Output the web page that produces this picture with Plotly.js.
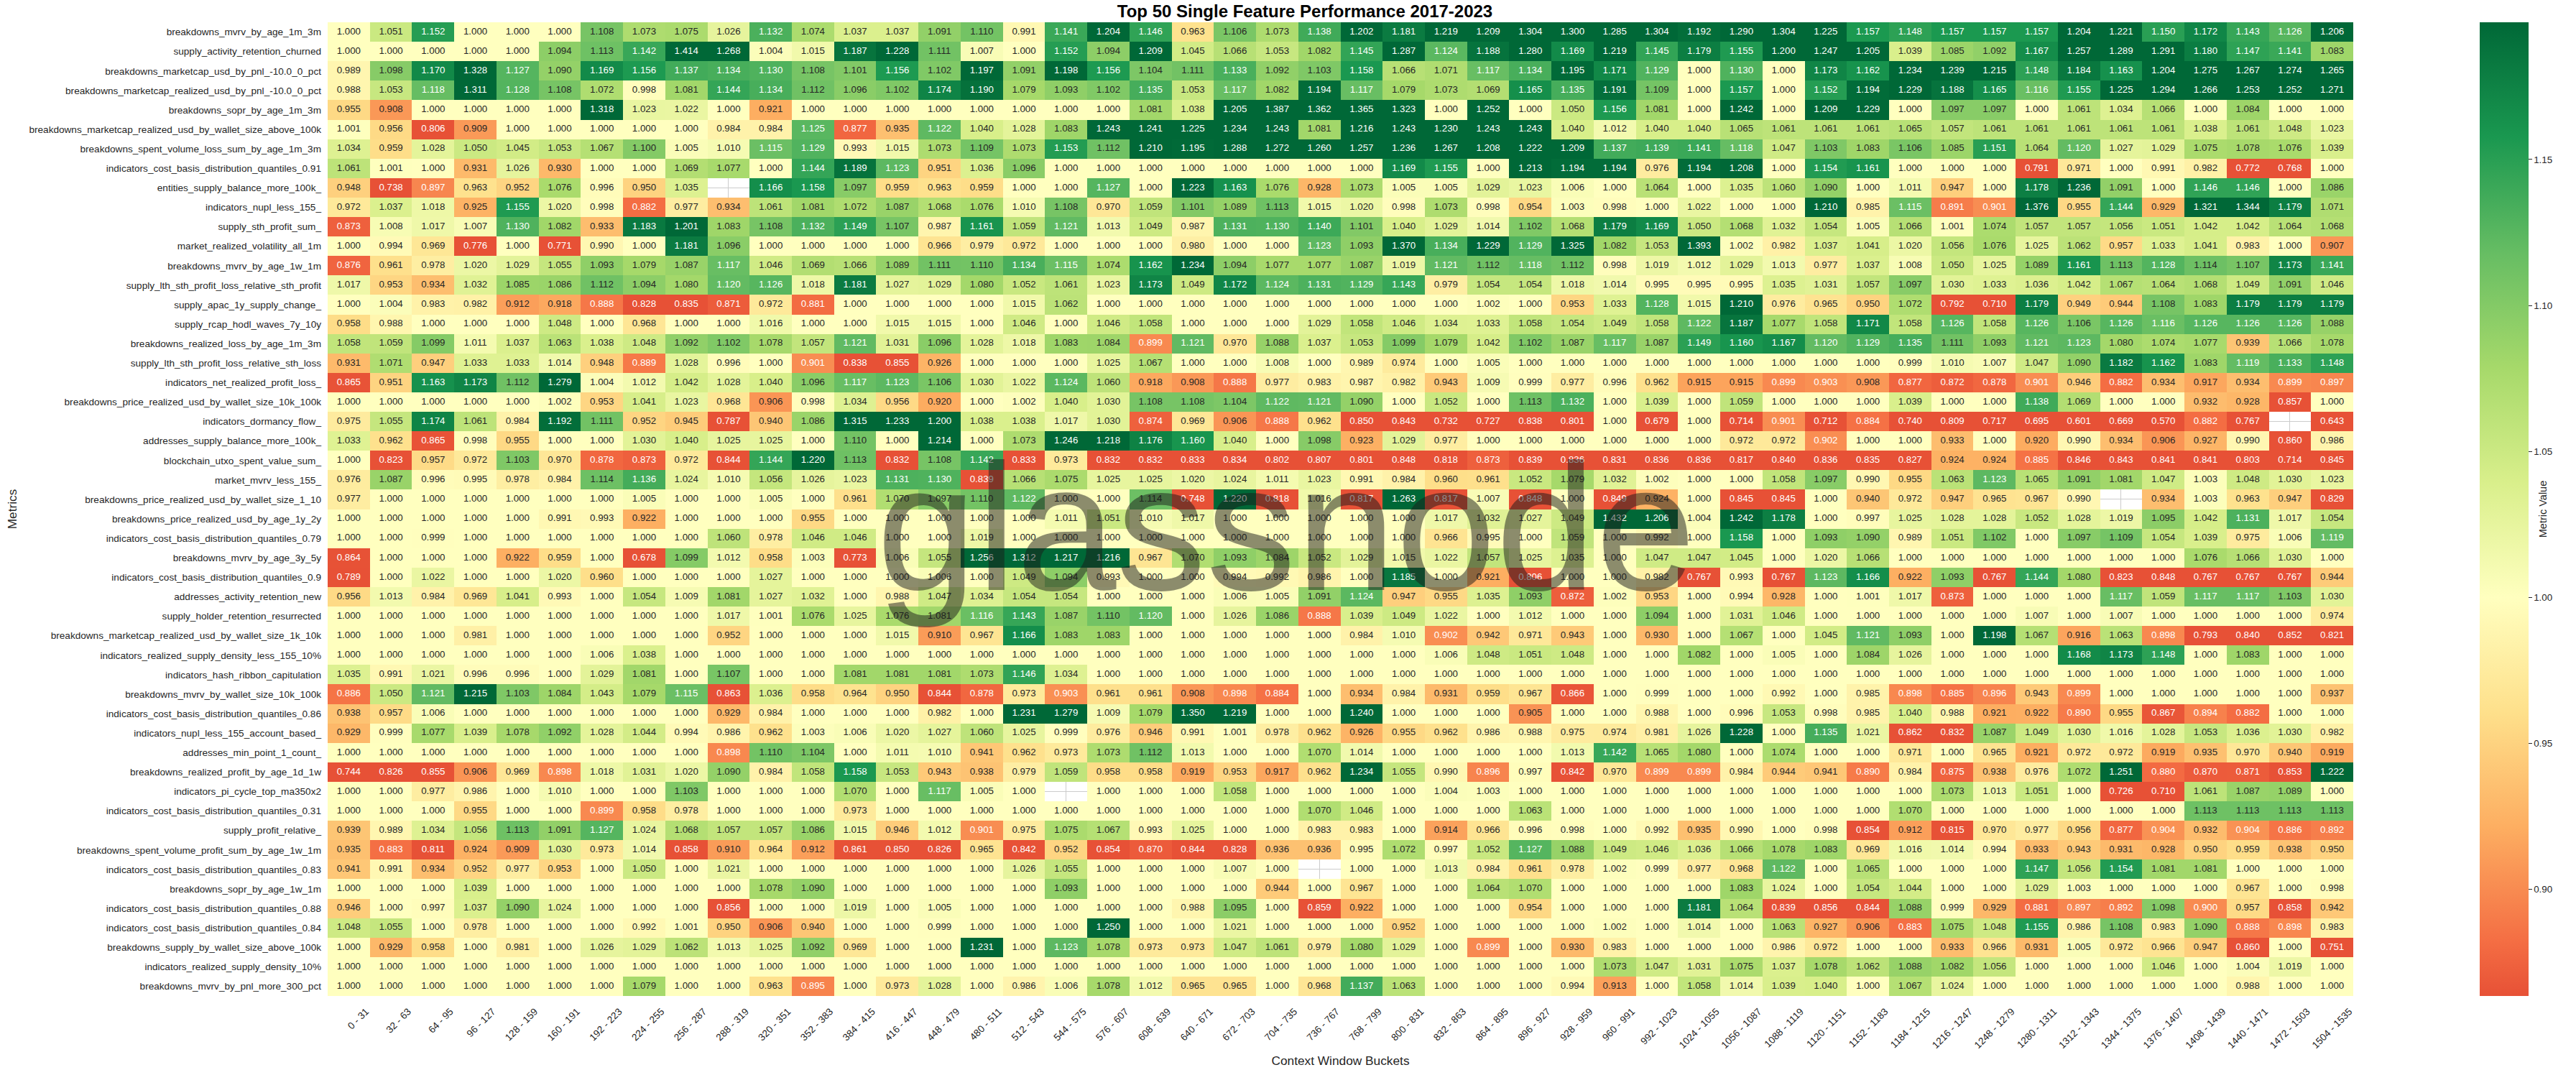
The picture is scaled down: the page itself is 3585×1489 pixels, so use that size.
<!DOCTYPE html>
<html>
<head>
<meta charset="utf-8">
<script src="https://cdn.plot.ly/plotly-3.0.1.min.js"></script>
<style>html,body{margin:0;padding:0;background:#fff}#chart{width:3585px;height:1489px}</style>
</head>
<body>
<div id="chart"></div>
<script>
const metrics = ["breakdowns_mvrv_by_age_1m_3m","supply_activity_retention_churned","breakdowns_marketcap_usd_by_pnl_-10.0_0_pct","breakdowns_marketcap_realized_usd_by_pnl_-10.0_0_pct","breakdowns_sopr_by_age_1m_3m","breakdowns_marketcap_realized_usd_by_wallet_size_above_100k","breakdowns_spent_volume_loss_sum_by_age_1m_3m","indicators_cost_basis_distribution_quantiles_0.91","entities_supply_balance_more_100k_","indicators_nupl_less_155_","supply_sth_profit_sum_","market_realized_volatility_all_1m","breakdowns_mvrv_by_age_1w_1m","supply_lth_sth_profit_loss_relative_sth_profit","supply_apac_1y_supply_change_","supply_rcap_hodl_waves_7y_10y","breakdowns_realized_loss_by_age_1m_3m","supply_lth_sth_profit_loss_relative_sth_loss","indicators_net_realized_profit_loss_","breakdowns_price_realized_usd_by_wallet_size_10k_100k","indicators_dormancy_flow_","addresses_supply_balance_more_100k_","blockchain_utxo_spent_value_sum_","market_mvrv_less_155_","breakdowns_price_realized_usd_by_wallet_size_1_10","breakdowns_price_realized_usd_by_age_1y_2y","indicators_cost_basis_distribution_quantiles_0.79","breakdowns_mvrv_by_age_3y_5y","indicators_cost_basis_distribution_quantiles_0.9","addresses_activity_retention_new","supply_holder_retention_resurrected","breakdowns_marketcap_realized_usd_by_wallet_size_1k_10k","indicators_realized_supply_density_less_155_10%","indicators_hash_ribbon_capitulation","breakdowns_mvrv_by_wallet_size_10k_100k","indicators_cost_basis_distribution_quantiles_0.86","indicators_nupl_less_155_account_based_","addresses_min_point_1_count_","breakdowns_realized_profit_by_age_1d_1w","indicators_pi_cycle_top_ma350x2","indicators_cost_basis_distribution_quantiles_0.31","supply_profit_relative_","breakdowns_spent_volume_profit_sum_by_age_1w_1m","indicators_cost_basis_distribution_quantiles_0.83","breakdowns_sopr_by_age_1w_1m","indicators_cost_basis_distribution_quantiles_0.88","indicators_cost_basis_distribution_quantiles_0.84","breakdowns_supply_by_wallet_size_above_100k","indicators_realized_supply_density_10%","breakdowns_mvrv_by_pnl_more_300_pct"];
const buckets = ["0 - 31","32 - 63","64 - 95","96 - 127","128 - 159","160 - 191","192 - 223","224 - 255","256 - 287","288 - 319","320 - 351","352 - 383","384 - 415","416 - 447","448 - 479","480 - 511","512 - 543","544 - 575","576 - 607","608 - 639","640 - 671","672 - 703","704 - 735","736 - 767","768 - 799","800 - 831","832 - 863","864 - 895","896 - 927","928 - 959","960 - 991","992 - 1023","1024 - 1055","1056 - 1087","1088 - 1119","1120 - 1151","1152 - 1183","1184 - 1215","1216 - 1247","1248 - 1279","1280 - 1311","1312 - 1343","1344 - 1375","1376 - 1407","1408 - 1439","1440 - 1471","1472 - 1503","1504 - 1535"];

const row00=[1.000,1.051,1.152,1.000,1.000,1.000,1.108,1.073,1.075,1.026,1.132,1.074,1.037,1.037,1.091,1.110,0.991,1.141,1.204,1.146,0.963,1.106,1.073,1.138,1.202,1.181,1.219,1.209,1.304,1.300,1.285,1.304,1.192,1.290,1.304,1.225,1.157,1.148,1.157,1.157,1.157,1.204,1.221,1.150,1.172,1.143,1.126,1.206];
const row01=[1.000,1.000,1.000,1.000,1.000,1.094,1.113,1.142,1.414,1.268,1.004,1.015,1.187,1.228,1.111,1.007,1.000,1.152,1.094,1.209,1.045,1.066,1.053,1.082,1.145,1.287,1.124,1.188,1.280,1.169,1.219,1.145,1.179,1.155,1.200,1.247,1.205,1.039,1.085,1.092,1.167,1.257,1.289,1.291,1.180,1.147,1.141,1.083];
const row02=[0.989,1.098,1.170,1.328,1.127,1.090,1.169,1.156,1.137,1.134,1.130,1.108,1.101,1.156,1.102,1.197,1.091,1.198,1.156,1.104,1.111,1.133,1.092,1.103,1.158,1.066,1.071,1.117,1.134,1.195,1.171,1.129,1.000,1.130,1.000,1.173,1.162,1.234,1.239,1.215,1.148,1.184,1.163,1.204,1.275,1.267,1.274,1.265];
const row03=[0.988,1.053,1.118,1.311,1.128,1.108,1.072,0.998,1.081,1.144,1.134,1.112,1.096,1.102,1.174,1.190,1.079,1.093,1.102,1.135,1.053,1.117,1.082,1.194,1.117,1.079,1.073,1.069,1.165,1.135,1.191,1.109,1.000,1.157,1.000,1.152,1.194,1.229,1.188,1.165,1.116,1.155,1.225,1.294,1.266,1.253,1.252,1.271];
const row04=[0.955,0.908,1.000,1.000,1.000,1.000,1.318,1.023,1.022,1.000,0.921,1.000,1.000,1.000,1.000,1.000,1.000,1.000,1.000,1.081,1.038,1.205,1.387,1.362,1.365,1.323,1.000,1.252,1.000,1.050,1.156,1.081,1.000,1.242,1.000,1.209,1.229,1.000,1.097,1.097,1.000,1.061,1.034,1.066,1.000,1.084,1.000,1.000];
const row05=[1.001,0.956,0.806,0.909,1.000,1.000,1.000,1.000,1.000,0.984,0.984,1.125,0.877,0.935,1.122,1.040,1.028,1.083,1.243,1.241,1.225,1.234,1.243,1.081,1.216,1.243,1.230,1.243,1.243,1.040,1.012,1.040,1.040,1.065,1.061,1.061,1.061,1.065,1.057,1.061,1.061,1.061,1.061,1.061,1.038,1.061,1.048,1.023];
const row06=[1.034,0.959,1.028,1.050,1.045,1.053,1.067,1.100,1.005,1.010,1.115,1.129,0.993,1.015,1.073,1.109,1.073,1.153,1.112,1.210,1.195,1.288,1.272,1.260,1.257,1.236,1.267,1.208,1.222,1.209,1.137,1.139,1.141,1.118,1.047,1.103,1.083,1.106,1.085,1.151,1.064,1.120,1.027,1.029,1.075,1.078,1.076,1.039];
const row07=[1.061,1.001,1.000,0.931,1.026,0.930,1.000,1.000,1.069,1.077,1.000,1.144,1.189,1.123,0.951,1.036,1.096,1.000,1.000,1.000,1.000,1.000,1.000,1.000,1.000,1.169,1.155,1.000,1.213,1.194,1.194,0.976,1.194,1.208,1.000,1.154,1.161,1.000,1.000,1.000,0.791,0.971,1.000,0.991,0.982,0.772,0.768,1.000];
const row08=[0.948,0.738,0.897,0.963,0.952,1.076,0.996,0.950,1.035,null,1.166,1.158,1.097,0.959,0.963,0.959,1.000,1.000,1.127,1.000,1.223,1.163,1.076,0.928,1.073,1.005,1.005,1.029,1.023,1.006,1.000,1.064,1.000,1.035,1.060,1.090,1.000,1.011,0.947,1.000,1.178,1.236,1.091,1.000,1.146,1.146,1.000,1.086];
const row09=[0.972,1.037,1.018,0.925,1.155,1.020,0.998,0.882,0.977,0.934,1.061,1.081,1.072,1.087,1.068,1.076,1.010,1.108,0.970,1.059,1.101,1.089,1.113,1.015,1.020,0.998,1.073,0.998,0.954,1.003,0.998,1.000,1.022,1.000,1.000,1.210,0.985,1.115,0.891,0.901,1.376,0.955,1.144,0.929,1.321,1.344,1.179,1.071];
const row10=[0.873,1.008,1.017,1.007,1.130,1.082,0.933,1.183,1.201,1.083,1.108,1.132,1.149,1.107,0.987,1.161,1.059,1.121,1.013,1.049,0.987,1.131,1.130,1.140,1.101,1.040,1.029,1.014,1.102,1.068,1.179,1.169,1.050,1.068,1.032,1.054,1.005,1.066,1.001,1.074,1.057,1.057,1.056,1.051,1.042,1.042,1.064,1.068];
const row11=[1.000,0.994,0.969,0.776,1.000,0.771,0.990,1.000,1.181,1.096,1.000,1.000,1.000,1.000,0.966,0.979,0.972,1.000,1.000,1.000,0.980,1.000,1.000,1.123,1.093,1.370,1.134,1.229,1.129,1.325,1.082,1.053,1.393,1.002,0.982,1.037,1.041,1.020,1.056,1.076,1.025,1.062,0.957,1.033,1.041,0.983,1.000,0.907];
const row12=[0.876,0.961,0.978,1.020,1.029,1.055,1.093,1.079,1.087,1.117,1.046,1.069,1.066,1.089,1.111,1.110,1.134,1.115,1.074,1.162,1.234,1.094,1.077,1.077,1.087,1.019,1.121,1.112,1.118,1.112,0.998,1.019,1.012,1.029,1.013,0.977,1.037,1.008,1.050,1.025,1.089,1.161,1.113,1.128,1.114,1.107,1.173,1.141];
const row13=[1.017,0.953,0.934,1.032,1.085,1.086,1.112,1.094,1.080,1.120,1.126,1.018,1.181,1.027,1.029,1.080,1.052,1.061,1.023,1.173,1.049,1.172,1.124,1.131,1.129,1.143,0.979,1.054,1.054,1.018,1.014,0.995,0.995,0.995,1.035,1.031,1.057,1.097,1.030,1.033,1.036,1.042,1.067,1.064,1.068,1.049,1.091,1.046];
const row14=[1.000,1.004,0.983,0.982,0.912,0.918,0.888,0.828,0.835,0.871,0.972,0.881,1.000,1.000,1.000,1.000,1.015,1.062,1.000,1.000,1.000,1.000,1.000,1.000,1.000,1.000,1.000,1.002,1.000,0.953,1.033,1.128,1.015,1.210,0.976,0.965,0.950,1.072,0.792,0.710,1.179,0.949,0.944,1.108,1.083,1.179,1.179,1.179];
const row15=[0.958,0.988,1.000,1.000,1.000,1.048,1.000,0.968,1.000,1.000,1.016,1.000,1.000,1.015,1.015,1.000,1.046,1.000,1.046,1.058,1.000,1.000,1.000,1.029,1.058,1.046,1.034,1.033,1.058,1.054,1.049,1.058,1.122,1.187,1.077,1.058,1.171,1.058,1.126,1.058,1.126,1.106,1.126,1.116,1.126,1.126,1.126,1.088];
const row16=[1.058,1.059,1.099,1.011,1.037,1.063,1.038,1.048,1.092,1.102,1.078,1.057,1.121,1.031,1.096,1.028,1.018,1.083,1.084,0.899,1.121,0.970,1.088,1.037,1.053,1.099,1.079,1.042,1.102,1.087,1.117,1.087,1.149,1.160,1.167,1.120,1.129,1.135,1.111,1.093,1.121,1.123,1.080,1.074,1.077,0.939,1.066,1.078];
const row17=[0.931,1.071,0.947,1.033,1.033,1.014,0.948,0.889,1.028,0.996,1.000,0.901,0.838,0.855,0.926,1.000,1.000,1.000,1.025,1.067,1.000,1.000,1.008,1.000,0.989,0.974,1.000,1.005,1.000,1.000,1.000,1.000,1.000,1.000,1.000,1.000,1.000,0.999,1.010,1.007,1.047,1.090,1.182,1.162,1.083,1.119,1.133,1.148];
const row18=[0.865,0.951,1.163,1.173,1.112,1.279,1.004,1.012,1.042,1.028,1.040,1.096,1.117,1.123,1.106,1.030,1.022,1.124,1.060,0.918,0.908,0.888,0.977,0.983,0.987,0.982,0.943,1.009,0.999,0.977,0.996,0.962,0.915,0.915,0.899,0.903,0.908,0.877,0.872,0.878,0.901,0.946,0.882,0.934,0.917,0.934,0.899,0.897];
const row19=[1.000,1.000,1.000,1.000,1.000,1.002,0.953,1.041,1.023,0.968,0.906,0.998,1.034,0.956,0.920,1.000,1.002,1.040,1.030,1.108,1.108,1.104,1.122,1.121,1.090,1.000,1.052,1.000,1.113,1.132,1.000,1.039,1.000,1.059,1.000,1.000,1.000,1.039,1.000,1.000,1.138,1.069,1.000,1.000,0.932,0.928,0.857,1.000];
const row20=[0.975,1.055,1.174,1.061,0.984,1.192,1.111,0.952,0.945,0.787,0.940,1.086,1.315,1.233,1.200,1.038,1.038,1.017,1.030,0.874,0.969,0.906,0.888,0.962,0.850,0.843,0.732,0.727,0.838,0.801,1.000,0.679,1.000,0.714,0.901,0.712,0.884,0.740,0.809,0.717,0.695,0.601,0.669,0.570,0.882,0.767,null,0.643];
const row21=[1.033,0.962,0.865,0.998,0.955,1.000,1.000,1.030,1.040,1.025,1.025,1.000,1.110,1.000,1.214,1.000,1.073,1.246,1.218,1.176,1.160,1.040,1.000,1.098,0.923,1.029,0.977,1.000,1.000,1.000,1.000,1.000,1.000,0.972,0.972,0.902,1.000,1.000,0.933,1.000,0.920,0.990,0.934,0.906,0.927,0.990,0.860,0.986];
const row22=[1.000,0.823,0.957,0.972,1.103,0.970,0.878,0.873,0.972,0.844,1.144,1.220,1.113,0.832,1.108,1.142,0.833,0.973,0.832,0.832,0.833,0.834,0.802,0.807,0.801,0.848,0.818,0.873,0.839,0.836,0.831,0.836,0.836,0.817,0.840,0.836,0.835,0.827,0.924,0.924,0.885,0.846,0.843,0.841,0.841,0.803,0.714,0.845];
const row23=[0.976,1.087,0.996,0.995,0.978,0.984,1.114,1.136,1.024,1.010,1.056,1.026,1.023,1.131,1.130,0.839,1.066,1.075,1.025,1.025,1.020,1.024,1.011,1.023,0.991,0.984,0.960,0.961,1.052,1.079,1.032,1.002,1.000,1.000,1.058,1.097,0.990,0.955,1.063,1.123,1.065,1.091,1.081,1.047,1.003,1.048,1.030,1.023];
const row24=[0.977,1.000,1.000,1.000,1.000,1.000,1.000,1.005,1.000,1.000,1.005,1.000,0.961,1.070,1.097,1.110,1.122,1.000,1.000,1.114,0.748,1.220,0.818,1.016,0.817,1.263,0.817,1.007,0.848,1.000,0.849,0.924,1.000,0.845,0.845,1.000,0.940,0.972,0.947,0.965,0.967,0.990,null,0.934,1.003,0.963,0.947,0.829];
const row25=[1.000,1.000,1.000,1.000,1.000,0.991,0.993,0.922,1.000,1.000,1.000,0.955,1.000,1.000,1.000,1.000,1.000,1.011,1.051,1.010,1.017,1.000,1.000,1.000,1.000,1.000,1.017,1.032,1.027,1.049,1.432,1.206,1.004,1.242,1.178,1.000,0.997,1.025,1.028,1.028,1.052,1.028,1.019,1.095,1.042,1.131,1.017,1.054];
const row26=[1.000,1.000,0.999,1.000,1.000,1.000,1.000,1.000,1.000,1.060,0.978,1.046,1.046,1.000,1.000,1.019,1.000,1.000,1.000,1.000,1.000,1.000,1.000,1.000,1.000,1.000,0.966,0.995,1.000,1.059,1.000,0.992,1.000,1.158,1.000,1.093,1.090,0.989,1.051,1.102,1.000,1.097,1.109,1.054,1.039,0.975,1.006,1.119];
const row27=[0.864,1.000,1.000,1.000,0.922,0.959,1.000,0.678,1.099,1.012,0.958,1.003,0.773,1.006,1.055,1.256,1.312,1.217,1.216,0.967,1.070,1.093,1.084,1.052,1.029,1.015,1.022,1.057,1.025,1.035,1.000,1.047,1.047,1.045,1.000,1.020,1.066,1.000,1.000,1.000,1.000,1.000,1.000,1.000,1.076,1.066,1.030,1.000];
const row28=[0.789,1.000,1.022,1.000,1.000,1.020,0.960,1.000,1.000,1.000,1.027,1.000,1.000,1.000,1.006,1.000,1.049,1.094,0.993,1.000,1.000,0.994,0.992,0.986,1.000,1.185,1.000,0.921,0.806,1.000,1.000,0.982,0.767,0.993,0.767,1.123,1.166,0.922,1.093,0.767,1.144,1.080,0.823,0.848,0.767,0.767,0.767,0.944];
const row29=[0.956,1.013,0.984,0.969,1.041,0.993,1.000,1.054,1.009,1.081,1.027,1.032,1.000,0.988,1.047,1.034,1.054,1.054,1.000,1.000,1.000,1.006,1.005,1.091,1.124,0.947,0.955,1.035,1.093,0.872,1.002,0.953,1.000,0.994,0.928,1.000,1.001,1.017,0.873,1.000,1.000,1.000,1.117,1.059,1.117,1.117,1.103,1.030];
const row30=[1.000,1.000,1.000,1.000,1.000,1.000,1.000,1.000,1.000,1.017,1.001,1.076,1.025,1.076,1.081,1.116,1.143,1.087,1.110,1.120,1.000,1.026,1.086,0.888,1.039,1.049,1.022,1.000,1.012,1.000,1.000,1.094,1.000,1.031,1.046,1.000,1.000,1.000,1.000,1.000,1.007,1.000,1.007,1.000,1.000,1.000,1.000,0.974];
const row31=[1.000,1.000,1.000,0.981,1.000,1.000,1.000,1.000,1.000,0.952,1.000,1.000,1.000,1.015,0.910,0.967,1.166,1.083,1.083,1.000,1.000,1.000,1.000,1.000,0.984,1.010,0.902,0.942,0.971,0.943,1.000,0.930,1.000,1.067,1.000,1.045,1.121,1.093,1.000,1.198,1.067,0.916,1.063,0.898,0.793,0.840,0.852,0.821];
const row32=[1.000,1.000,1.000,1.000,1.000,1.000,1.006,1.038,1.000,1.000,1.000,1.000,1.000,1.000,1.000,1.000,1.000,1.000,1.000,1.000,1.000,1.000,1.000,1.000,1.000,1.000,1.006,1.048,1.051,1.048,1.000,1.000,1.082,1.000,1.005,1.000,1.084,1.026,1.000,1.000,1.000,1.168,1.173,1.148,1.000,1.083,1.000,1.000];
const row33=[1.035,0.991,1.021,0.996,0.996,1.000,1.029,1.081,1.000,1.107,1.000,1.000,1.081,1.081,1.081,1.073,1.146,1.034,1.000,1.000,1.000,1.000,1.000,1.000,1.000,1.000,1.000,1.000,1.000,1.000,1.000,1.000,1.000,1.000,1.000,1.000,1.000,1.000,1.000,1.000,1.000,1.000,1.000,1.000,1.000,1.000,1.000,1.000];
const row34=[0.886,1.050,1.121,1.215,1.103,1.084,1.043,1.079,1.115,0.863,1.036,0.958,0.964,0.950,0.844,0.878,0.973,0.903,0.961,0.961,0.908,0.898,0.884,1.000,0.934,0.984,0.931,0.959,0.967,0.866,1.000,0.999,1.000,1.000,0.992,1.000,0.985,0.898,0.885,0.896,0.943,0.899,1.000,1.000,1.000,1.000,1.000,0.937];
const row35=[0.938,0.957,1.006,1.000,1.000,1.000,1.000,1.000,1.000,0.929,0.984,1.000,1.000,1.000,0.982,1.000,1.231,1.279,1.009,1.079,1.350,1.219,1.000,1.000,1.240,1.000,1.000,1.000,0.905,1.000,1.000,0.988,1.000,0.996,1.053,0.998,0.985,1.040,0.988,0.921,0.922,0.890,0.955,0.867,0.894,0.882,1.000,1.000];
const row36=[0.929,0.999,1.077,1.039,1.078,1.092,1.028,1.044,0.994,0.986,0.962,1.003,1.006,1.020,1.027,1.060,1.025,0.999,0.976,0.946,0.991,1.001,0.978,0.962,0.926,0.955,0.962,0.986,0.988,0.975,0.974,0.981,1.026,1.228,1.000,1.135,1.021,0.862,0.832,1.087,1.049,1.030,1.016,1.028,1.053,1.036,1.030,0.982];
const row37=[1.000,1.000,1.000,1.000,1.000,1.000,1.000,1.000,1.000,0.898,1.110,1.104,1.000,1.011,1.010,0.941,0.962,0.973,1.073,1.112,1.013,1.000,1.000,1.070,1.014,1.000,1.000,1.000,1.000,1.013,1.142,1.065,1.080,1.000,1.074,1.000,1.000,0.971,1.000,0.965,0.921,0.972,0.972,0.919,0.935,0.970,0.940,0.919];
const row38=[0.744,0.826,0.855,0.906,0.969,0.898,1.018,1.031,1.020,1.090,0.984,1.058,1.158,1.053,0.943,0.938,0.979,1.059,0.958,0.958,0.919,0.953,0.917,0.962,1.234,1.055,0.990,0.896,0.997,0.842,0.970,0.899,0.899,0.984,0.944,0.941,0.890,0.984,0.875,0.938,0.976,1.072,1.251,0.880,0.870,0.871,0.853,1.222];
const row39=[1.000,1.000,0.977,0.986,1.000,1.010,1.000,1.000,1.103,1.000,1.000,1.000,1.070,1.000,1.117,1.005,1.000,null,1.000,1.000,1.000,1.058,1.000,1.000,1.000,1.000,1.004,1.003,1.000,1.000,1.000,1.000,1.000,1.000,1.000,1.000,1.000,1.000,1.073,1.013,1.051,1.000,0.726,0.710,1.061,1.087,1.089,1.000];
const row40=[1.000,1.000,1.000,0.955,1.000,1.000,0.899,0.958,0.978,1.000,1.000,1.000,0.973,1.000,1.000,1.000,1.000,1.000,1.000,1.000,1.000,1.000,1.000,1.070,1.046,1.000,1.000,1.000,1.063,1.000,1.000,1.000,1.000,1.000,1.000,1.000,1.000,1.070,1.000,1.000,1.000,1.000,1.000,1.000,1.113,1.113,1.113,1.113];
const row41=[0.939,0.989,1.034,1.056,1.113,1.091,1.127,1.024,1.068,1.057,1.057,1.086,1.015,0.946,1.012,0.901,0.975,1.075,1.067,0.993,1.025,1.000,1.000,0.983,0.983,1.000,0.914,0.966,0.996,0.998,1.000,0.992,0.935,0.990,1.000,0.998,0.854,0.912,0.815,0.970,0.977,0.956,0.877,0.904,0.932,0.904,0.886,0.892];
const row42=[0.935,0.883,0.811,0.924,0.909,1.030,0.973,1.014,0.858,0.910,0.964,0.912,0.861,0.850,0.826,0.965,0.842,0.952,0.854,0.870,0.844,0.828,0.936,0.936,0.995,1.072,0.997,1.052,1.127,1.088,1.049,1.046,1.036,1.066,1.078,1.083,0.969,1.016,1.014,0.994,0.933,0.943,0.931,0.928,0.950,0.959,0.938,0.950];
const row43=[0.941,0.991,0.934,0.952,0.977,0.953,1.000,1.050,1.000,1.021,1.000,1.000,1.000,1.000,1.000,1.000,1.026,1.055,1.000,1.000,1.000,1.007,1.000,null,1.000,1.000,1.013,0.984,0.961,0.978,1.002,0.999,0.977,0.968,1.122,1.000,1.065,1.000,1.000,1.000,1.147,1.056,1.154,1.081,1.081,1.000,1.000,1.000];
const row44=[1.000,1.000,1.000,1.039,1.000,1.000,1.000,1.000,1.000,1.000,1.078,1.090,1.000,1.000,1.000,1.000,1.000,1.093,1.000,1.000,1.000,1.000,0.944,1.000,0.967,1.000,1.000,1.064,1.070,1.000,1.000,1.000,1.000,1.083,1.024,1.000,1.054,1.044,1.000,1.000,1.029,1.003,1.000,1.000,1.000,0.967,1.000,0.998];
const row45=[0.946,1.000,0.997,1.037,1.090,1.024,1.000,1.000,1.000,0.856,1.000,1.000,1.019,1.000,1.005,1.000,1.000,1.000,1.000,1.000,0.988,1.095,1.000,0.859,0.922,1.000,1.000,1.000,0.954,1.000,1.000,1.000,1.181,1.064,0.839,0.856,0.844,1.088,0.999,0.929,0.881,0.897,0.892,1.098,0.900,0.957,0.858,0.942];
const row46=[1.048,1.055,1.000,0.978,1.000,1.000,1.000,0.992,1.001,0.950,0.906,0.940,1.000,1.000,0.999,1.000,1.000,1.000,1.250,1.000,1.000,1.021,1.000,1.000,1.000,0.952,1.000,1.000,1.000,1.000,1.002,1.000,1.014,1.000,1.063,0.927,0.906,0.883,1.075,1.048,1.155,0.986,1.108,0.983,1.090,0.888,0.898,0.983];
const row47=[1.000,0.929,0.958,1.000,0.981,1.000,1.026,1.029,1.062,1.013,1.025,1.092,0.969,1.000,1.000,1.231,1.000,1.123,1.078,0.973,0.973,1.047,1.061,0.979,1.080,1.029,1.000,0.899,1.000,0.930,0.983,1.000,1.000,1.000,0.986,0.972,1.000,1.000,0.933,0.966,0.931,1.005,0.972,0.966,0.947,0.860,1.000,0.751];
const row48=[1.000,1.000,1.000,1.000,1.000,1.000,1.000,1.000,1.000,1.000,1.000,1.000,1.000,1.000,1.000,1.000,1.000,1.000,1.000,1.000,1.000,1.000,1.000,1.000,1.000,1.000,1.000,1.000,1.000,1.000,1.073,1.047,1.031,1.075,1.037,1.078,1.062,1.088,1.082,1.056,1.000,1.000,1.000,1.046,1.000,1.004,1.019,1.000];
const row49=[1.000,1.000,1.000,1.000,1.000,1.000,1.000,1.079,1.000,1.000,0.963,0.895,1.000,0.973,1.028,1.000,0.986,1.006,1.078,1.012,0.965,0.965,1.000,0.968,1.137,1.063,1.000,1.000,1.000,0.994,0.913,1.000,1.058,1.014,1.039,1.040,1.000,1.067,1.024,1.000,1.000,1.000,1.000,1.000,1.000,0.988,1.000,1.000];

const z = [row00,row01,row02,row03,row04,row05,row06,row07,row08,row09,row10,row11,row12,row13,row14,row15,row16,row17,row18,row19,row20,row21,row22,row23,row24,row25,row26,row27,row28,row29,row30,row31,row32,row33,row34,row35,row36,row37,row38,row39,row40,row41,row42,row43,row44,row45,row46,row47,row48,row49];

const zMin = 0.8635, zMax = 1.197, zCenter = 1.0;
const tMin = 0.5 + (zMin - zCenter) / (2 * (zMax - zCenter));
const rdylgn = [[0.2,'#f46d43'],[0.3,'#fdae61'],[0.4,'#fee08b'],[0.5,'#ffffbf'],[0.6,'#d9ef8b'],[0.7,'#a6d96a'],[0.8,'#66bd63'],[0.9,'#1a9850'],[1,'#006837']];
const colorscale = [[0,'rgb(231,81,54)']].concat(rdylgn.map(s => [(s[0]-tMin)/(1-tMin), s[1]]));

const tx=[], ty=[], tt=[], tc=[];
z.forEach((r,i)=>r.forEach((v,j)=>{
  if(v===null) return;
  tx.push(buckets[j]); ty.push(metrics[i]); tt.push(v.toFixed(3));
  tc.push((v>=1.115||v<=0.904)?'#ffffff':'#262626');
}));

const FONT = '"Liberation Sans", Arial, sans-serif';
const L=456, R=3275, T=31, B=1386, W=3585, H=1489;

Plotly.newPlot('chart',[
 {type:'heatmap',x:buckets,y:metrics,z:z,zmin:zMin,zmax:zMax,colorscale:colorscale,hoverongaps:false,
  colorbar:{thickness:68,thicknessmode:'pixels',len:1,lenmode:'fraction',x:(3451-L)/(R-L),xanchor:'left',y:0.5,yanchor:'middle',xpad:0,ypad:0,
    outlinewidth:0,tick0:0.9,dtick:0.05,tickformat:'.2f',ticks:'outside',ticklen:5,tickwidth:1,tickcolor:'#262626',
    tickfont:{size:13.3,family:FONT,color:'#262626'},
    title:{text:'Metric Value',side:'right',font:{size:14.5,family:FONT,color:'#262626'}}}},
 {type:'scatter',mode:'text',x:tx,y:ty,text:tt,textposition:'middle center',
  textfont:{size:13.3,family:FONT,color:tc},hoverinfo:'skip',showlegend:false,cliponaxis:false}
],{
 width:W,height:H,autosize:false,
 margin:{l:L,r:W-R,t:T,b:H-B,pad:0},
 paper_bgcolor:'#fff',plot_bgcolor:'#fff',
 font:{family:FONT,color:'#262626'},
 title:{text:'Top 50 Single Feature Performance 2017-2023',font:{size:24,family:FONT,color:'#000',weight:700},xref:'container',x:1816/W,xanchor:'center',yref:'container',y:1-16/H,yanchor:'middle'},
 xaxis:{type:'category',categoryorder:'array',categoryarray:buckets,range:[-0.5,47.5],autorange:false,tickangle:-45,ticks:'',ticklen:0,showgrid:true,gridcolor:'#cccccc',gridwidth:1,zeroline:false,showline:false,automargin:false,
   tickfont:{size:13.6,family:FONT,color:'#262626'},ticklabelshift:24,ticklabelstandoff:10,
   title:{text:'Context Window Buckets',font:{size:17.3,family:FONT,color:'#262626'},standoff:8}},
 yaxis:{type:'category',categoryorder:'array',categoryarray:metrics,range:[49.5,-0.5],autorange:false,ticks:'',ticklen:0,showgrid:true,gridcolor:'#cccccc',gridwidth:1,zeroline:false,showline:false,automargin:false,
   tickfont:{size:13.6,family:FONT,color:'#262626'},ticklabelstandoff:8,
   title:{text:'Metrics',font:{size:17.3,family:FONT,color:'#262626'},standoff:12}},
 annotations:[{text:'glassnode',showarrow:false,xref:'paper',yref:'paper',x:(1790-L)/(R-L),y:1-(735-T)/(B-T),xanchor:'center',yanchor:'middle',
   font:{size:250,family:FONT,color:'rgba(26,26,26,0.5)'}}]
},{displayModeBar:false,staticPlot:true});
</script>
</body>
</html>
